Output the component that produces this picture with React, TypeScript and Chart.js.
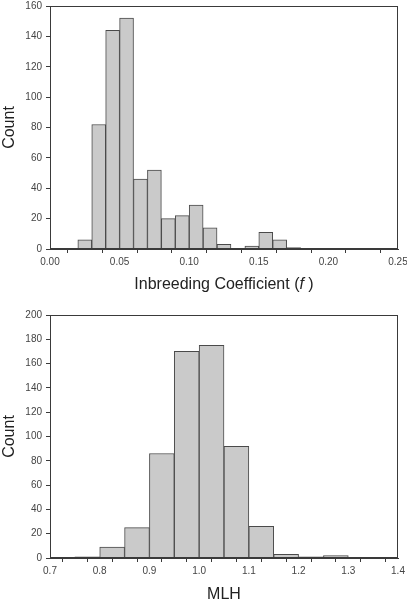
import React, { useEffect, useRef } from "react";
import { Chart, registerables } from "chart.js";

Chart.register(...registerables);

// ---- Data: Inbreeding coefficient histogram (bin width 0.01) ----
const fBinStarts = [0.02, 0.03, 0.04, 0.05, 0.06, 0.07, 0.08, 0.09, 0.10, 0.11, 0.12, 0.13, 0.14, 0.15, 0.16, 0.17];
const fCounts = [6, 82, 144, 152, 46, 52, 20, 22, 29, 14, 3, 0, 2, 11, 6, 1];
const fBinWidth = 0.01;
const fXMin = 0;
const fXMax = 0.25;
const fXStep = 0.025;
const fYMax = 160;
const fYStep = 20;

// ---- Data: MLH histogram (bin width 0.05) ----
const mBinStarts = [0.75, 0.8, 0.85, 0.9, 0.95, 1.0, 1.05, 1.1, 1.15, 1.2, 1.25];
const mCounts = [1, 9, 25, 86, 170, 175, 92, 26, 3, 1, 2];
const mBinWidth = 0.05;
const mXMin = 0.7;
const mXMax = 1.4;
const mXStep = 0.05;
const mYMax = 200;
const mYStep = 20;

const FONT = "'Liberation Sans', Arial, Helvetica, sans-serif";
const AXIS = "#3a3a3a";
const TICKTXT = "#444";

type Part = { text: string; italic?: boolean };

const titlesPlugin = {
  id: "titlesAndFrame",
  afterDraw(chart: any) {
    const opts = chart.options.plugins.titlesAndFrame || {};
    const { ctx, chartArea } = chart;
    const { left, top, right, bottom } = chartArea;
    ctx.save();
    ctx.strokeStyle = AXIS;
    ctx.lineWidth = 1;
    ctx.strokeRect(Math.round(left) + 0.5, Math.round(top) + 0.5, Math.round(right - left) - 1, Math.round(bottom - top) - 1);
    const parts: Part[] = opts.xParts || [];
    ctx.fillStyle = "#222";
    ctx.textBaseline = "middle";
    let total = 0;
    const widths = parts.map((p) => {
      ctx.font = `${p.italic ? "italic " : ""}16px ${FONT}`;
      const w = ctx.measureText(p.text).width;
      total += w;
      return w;
    });
    let x = (left + right) / 2 - total / 2;
    ctx.textAlign = "left";
    parts.forEach((p, i) => {
      ctx.font = `${p.italic ? "italic " : ""}16px ${FONT}`;
      ctx.fillText(p.text, x, opts.xTitleY);
      x += widths[i];
    });
    ctx.font = `16px ${FONT}`;
    ctx.textAlign = "center";
    ctx.translate(opts.yTitleX, (top + bottom) / 2);
    ctx.rotate(-Math.PI / 2);
    ctx.fillText(opts.yTitle || "", 0, 0);
    ctx.restore();
  },
};

type HistProps = {
  binStarts: number[];
  counts: number[];
  binWidth: number;
  xMin: number;
  xMax: number;
  xStep: number;
  labelEvery: number;
  decimals: number;
  yMax: number;
  yStep: number;
  height: number;
  padTop: number;
  plotBottom: number;
  xParts: Part[];
  xTitleY: number;
};

function Histogram(p: HistProps) {
  const ref = useRef<HTMLCanvasElement | null>(null);
  useEffect(() => {
    if (!ref.current) return;
    const data = p.binStarts.map((s, i) => ({ x: s + p.binWidth / 2, y: p.counts[i] }));
    const chart = new Chart(ref.current, {
      type: "bar",
      data: {
        datasets: [
          {
            data,
            backgroundColor: "#cacaca",
            borderColor: "#4a4a4a",
            borderWidth: 1,
            barPercentage: 1,
            categoryPercentage: 1,
          } as any,
        ],
      },
      options: {
        animation: false,
        responsive: false,
        devicePixelRatio: 1,
        layout: { padding: { top: p.padTop, right: 0, left: 0, bottom: 0 } },
        plugins: {
          legend: { display: false },
          tooltip: { enabled: false },
          titlesAndFrame: { xParts: p.xParts, xTitleY: p.xTitleY, yTitle: "Count", yTitleX: 10 },
        } as any,
        scales: {
          x: {
            type: "linear",
            min: p.xMin,
            max: p.xMax,
            offset: false,
            afterFit: (s: any) => {
              s.height = p.height - p.plotBottom;
              s.paddingRight = 9;
              s.paddingLeft = 0;
            },
            grid: { display: true, drawOnChartArea: false, drawTicks: true, tickLength: 4, color: AXIS },
            border: { display: true, color: AXIS },
            ticks: {
              stepSize: p.xStep,
              autoSkip: false,
              maxRotation: 0,
              minRotation: 0,
              padding: 3,
              color: TICKTXT,
              font: { family: FONT, size: 10 },
              callback: (v: any) => {
                const k = Math.round((Number(v) - p.xMin) / p.xStep);
                return k % p.labelEvery === 0 ? Number(v).toFixed(p.decimals) : "";
              },
            },
          },
          y: {
            type: "linear",
            min: 0,
            max: p.yMax,
            afterFit: (s: any) => {
              s.width = 50;
              s.paddingTop = 0;
              s.paddingBottom = 0;
            },
            grid: { display: true, drawOnChartArea: false, drawTicks: true, tickLength: 4, color: AXIS },
            border: { display: true, color: AXIS },
            ticks: {
              stepSize: p.yStep,
              padding: 4,
              color: TICKTXT,
              font: { family: FONT, size: 10 },
            },
          },
        } as any,
      },
      plugins: [titlesPlugin],
    });
    return () => chart.destroy();
  }, []);
  return <canvas ref={ref} width={407} height={p.height} style={{ display: "block", width: 407, height: p.height }} />;
}

export default function App() {
  return (
    <div style={{ position: "absolute", left: 0, top: 0, width: 407, height: 603, background: "#fff" }}>
      <Histogram
        binStarts={fBinStarts}
        counts={fCounts}
        binWidth={fBinWidth}
        xMin={fXMin}
        xMax={fXMax}
        xStep={fXStep}
        labelEvery={2}
        decimals={2}
        yMax={fYMax}
        yStep={fYStep}
        height={300}
        padTop={6}
        plotBottom={249}
        xParts={[{ text: "Inbreeding Coefficient (" }, { text: "f", italic: true }, { text: " )" }]}
        xTitleY={285}
      />
      <Histogram
        binStarts={mBinStarts}
        counts={mCounts}
        binWidth={mBinWidth}
        xMin={mXMin}
        xMax={mXMax}
        xStep={mXStep}
        labelEvery={2}
        decimals={1}
        yMax={mYMax}
        yStep={mYStep}
        height={303}
        padTop={15}
        plotBottom={258}
        xParts={[{ text: "MLH" }]}
        xTitleY={295}
      />
    </div>
  );
}
